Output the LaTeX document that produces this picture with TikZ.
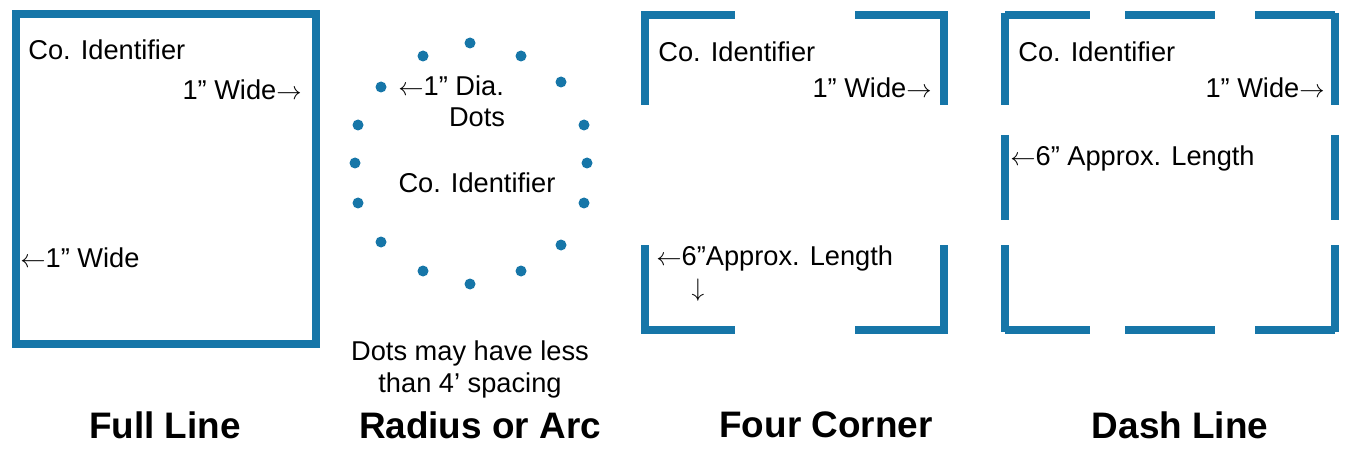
\documentclass[tikz,border=0pt]{standalone}
\usepackage{fontspec}
\setmainfont{Liberation Sans}
\definecolor{signblue}{HTML}{1676A8}
\newcommand{\ra}{$\rightarrow$}
\newcommand{\la}{$\leftarrow$}
\begin{document}
\begin{tikzpicture}[x=0.02cm,y=-0.02cm,
  edge/.style={signblue,line width=4pt},
  lbl/.style={font=\fontsize{15.5}{18}\selectfont,inner sep=0pt},
  title/.style={font=\fontsize{21}{25}\selectfont\bfseries,inner sep=0pt}]
\useasboundingbox (0,0) rectangle (1350,456);
% full line
\draw[edge] (16,14) rectangle (316,344);
\node[lbl,anchor=west] (fid) at (28,50) {Co. Identifier};
\node[lbl,anchor=east] (fwr) at (302,90) {1” Wide\ra};
\node[lbl,anchor=west] (fwl) at (20,258) {\la1” Wide};
% radius or arc
\foreach \p in {(470,43),(521,56),(561,82),(584,125),(587,163),(584,203),(561,245),(521,271),(470,284),(423,271),(381,242),(358,203),(355,163),(358,125),(381,87),(423,56)}
  \fill[signblue] \p circle (5.5);
\node[lbl,anchor=west] (dia) at (398,86) {\la1” Dia.};
\node[lbl] (dots) at (477,117) {Dots};
\node[lbl] (rid) at (477,183) {Co. Identifier};
\node[lbl] (sp1) at (470,353) {Dots may have less};
\node[lbl] (sp2) at (470,385) {than 4’ spacing};
% four corner
\draw[edge] (645,105) -- (645,15) -- (735,15);
\draw[edge] (855,15) -- (944,15) -- (944,105);
\draw[edge] (645,245) -- (645,330) -- (735,330);
\draw[edge] (855,330) -- (944,330) -- (944,245);
\node[lbl,anchor=west] (cid) at (658,52) {Co. Identifier};
\node[lbl,anchor=east] (cwr) at (932,88) {1” Wide\ra};
\node[lbl,anchor=west] (clen) at (656,258) {\la6”Approx. Length};
\node[lbl] (cdn) at (698,290) {$\downarrow$};
% dash line
\foreach \a/\b in {1005/1090,1125/1215,1255/1335}{
  \draw[edge,line cap=butt] (\a,15) -- (\b,15);
  \draw[edge,line cap=butt] (\a,330) -- (\b,330);}
\foreach \a/\b in {13/105,135/220,245/332}{
  \draw[edge,line cap=butt] (1005,\a) -- (1005,\b);
  \draw[edge,line cap=butt] (1335,\a) -- (1335,\b);}
\node[lbl,anchor=west] (did) at (1018,52) {Co. Identifier};
\node[lbl,anchor=east] (dwr) at (1325,88) {1” Wide\ra};
\node[lbl,anchor=west] (dlen) at (1010,158) {\la6” Approx. Length};
% titles
\node[title] (t1) at (165,425) {Full Line};
\node[title] (t2) at (480,425) {Radius or Arc};
\node[title] (t3) at (826,425) {Four Corner};
\node[title] (t4) at (1180,425) {Dash Line};
\end{tikzpicture}
\end{document}
